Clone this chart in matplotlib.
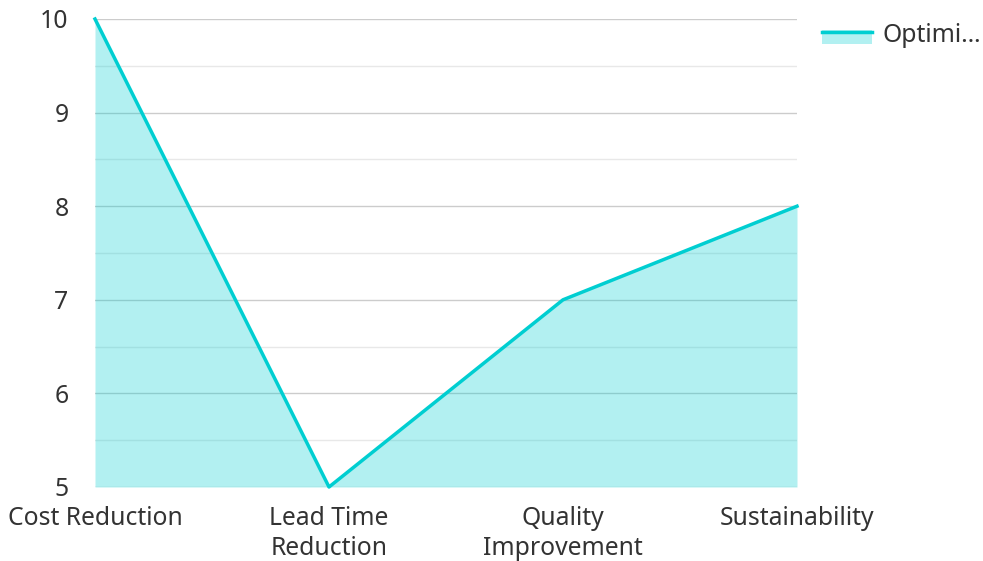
from matplotlib import pyplot as plt
from matplotlib.patches import Rectangle
from matplotlib.lines import Line2D
import numpy as np

plt.rcParams['font.family'] = ['Noto Sans', 'DejaVu Sans']

categories = ["Cost Reduction", "Lead Time\nReduction", "Quality\nImprovement", "Sustainability"]
values = [10, 5, 7, 8]
series_name = "Optimi\u2026"

line_color = "#00CED1"
text_color = "#333333"
fs = 17.8

fig = plt.figure(figsize=(9.83, 5.61), dpi=100)
ax = fig.add_axes([95 / 983, 1 - 487 / 561, (797 - 95) / 983, (487 - 19) / 561])

x = np.arange(len(categories))
ax.fill_between(x, values, 5, color=line_color, alpha=0.3, linewidth=0, zorder=2)
ax.plot(x, values, color=line_color, linewidth=2.5, zorder=3, clip_on=False)

ax.set_xlim(0, len(categories) - 1)
ax.set_ylim(5, 10)
ax.set_xticks(x)
ax.set_xticklabels(categories, fontsize=fs, color=text_color, linespacing=1.3)
ax.set_yticks(np.arange(5, 11, 1))
ax.set_yticks(np.arange(5.5, 10, 1), minor=True)
ax.tick_params(axis='y', which='both', length=0, pad=19, labelsize=fs, labelcolor=text_color)
ax.tick_params(axis='x', length=0, pad=13.5)
ax.grid(axis='y', which='major', color="#cccccc", linewidth=1, zorder=1)
ax.grid(axis='y', which='minor', color="#e8e8e8", linewidth=1, zorder=1)
for s in ax.spines.values():
    s.set_visible(False)

# legend drawn in figure pixels
fig.patches.append(Rectangle((822 / 983, 1 - 44 / 561), 50 / 983, 14 / 561,
                             transform=fig.transFigure, facecolor=line_color,
                             alpha=0.3, edgecolor='none'))
fig.lines.append(Line2D([822 / 983, 872 / 983], [1 - 31.5 / 561, 1 - 31.5 / 561],
                        transform=fig.transFigure, color=line_color, linewidth=2.5))
fig.text(882 / 983, 1 - 35 / 561, series_name, fontsize=fs, color=text_color,
         va='center', ha='left')

plt.savefig("out.png", dpi=100)
